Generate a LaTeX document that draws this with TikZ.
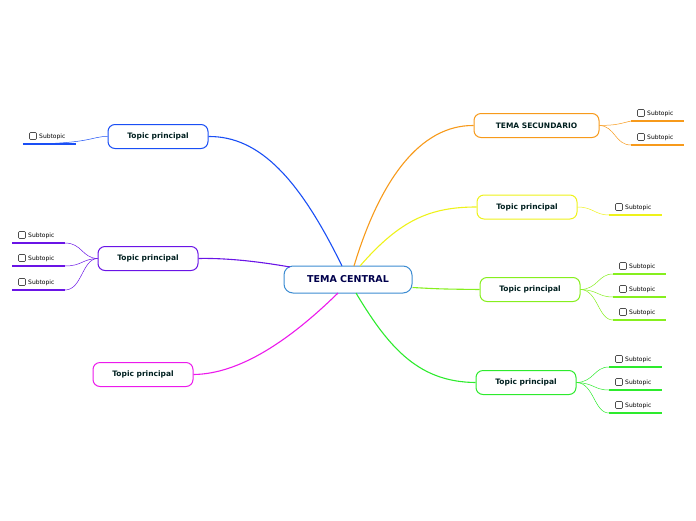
\documentclass[tikz,border=0pt]{standalone}
\usepackage{fontspec}
\setmainfont{DejaVu Sans}
\begin{document}
\begin{tikzpicture}[x=1pt,y=-1pt,
  topic/.style={draw=#1,fill=white,rounded corners=7pt,line width=1pt,minimum width=100pt,minimum height=24pt,font=\bfseries\fontsize{7.5}{9}\selectfont,text=black!75!teal,inner sep=2pt},
  conn/.style={draw=#1,line width=1.1pt},
  sconn/.style={draw=#1,line width=0.5pt},
  uline/.style={draw=#1,line width=1.5pt},
  sub/.style={font=\fontsize{6}{7}\selectfont,inner sep=1pt,anchor=west},
  chk/.style={draw=black!70,rounded corners=1pt,minimum size=7pt,inner sep=0pt,line width=0.6pt}]
\useasboundingbox (0,0) rectangle (696,520);
\definecolor{cor}{HTML}{F79A1B}
\definecolor{cye}{HTML}{EEF21A}
\definecolor{cch}{HTML}{86EF1E}
\definecolor{cgr}{HTML}{2DEB2D}
\definecolor{cbl}{HTML}{1A4FF5}
\definecolor{cpu}{HTML}{6A14E6}
\definecolor{cma}{HTML}{EC1AEC}
\definecolor{ccen}{HTML}{3C8CD2}
% center
\node[draw=ccen,fill=white,rounded corners=9pt,line width=1pt,minimum width=128pt,minimum height=27pt,font=\bfseries\fontsize{9.5}{11}\selectfont,text=black!70!blue] (c) at (348,279.5) {TEMA CENTRAL};
% branches
\node[topic=cor,minimum width=125pt] (o) at (536.5,125.5) {TEMA SECUNDARIO};
\node[topic=cye] (y) at (527,207) {Topic principal};
\node[topic=cch] (h) at (530,289.5) {Topic principal};
\node[topic=cgr] (g) at (526,382.5) {Topic principal};
\node[topic=cbl] (b) at (158,136.5) {Topic principal};
\node[topic=cpu] (p) at (148,258.5) {Topic principal};
\node[topic=cma] (m) at (143,374.5) {Topic principal};
\begin{scope}[on background layer/.style={}]
\end{scope}
% connectors (drawn then nodes redrawn on top not needed: start at borders)
\draw[conn=cor] (354,266) .. controls (380,180) and (420,125) .. (o.west);
\draw[conn=cye] (360,266) .. controls (400,220) and (430,207) .. (y.west);
\draw[conn=cch] (c.east) ++(0,8) .. controls (440,289) .. (h.west);
\draw[conn=cgr] (356,293) .. controls (390,350) and (420,382) .. (g.west);
\draw[conn=cbl] (342,266) .. controls (300,180) and (260,136) .. (b.east);
\draw[conn=cpu] (290,267) .. controls (250,260) and (220,258) .. (p.east);
\draw[conn=cma] (338,293) .. controls (290,340) and (240,374) .. (m.east);
% subtopics
\newcommand{\subt}[5]{% color, x1, x2, y, name
  \coordinate (#5s) at (#2,#4);
  \draw[uline=#1] (#2,#4) -- (#3,#4);
  \node[chk] (#5k) at (#2+10,#4-8) {};
  \node[sub] (#5t) at (#2+15,#4-7.5) {Subtopic};}
\subt{cor}{631}{684}{121}{o1}
\subt{cor}{631}{684}{145}{o2}
\draw[sconn=cor] (o.east) .. controls (615,125) .. (o1s);
\draw[sconn=cor] (o.east) .. controls (615,126) and (615,145) .. (o2s);
\subt{cye}{609}{662}{215}{y1}
\draw[sconn=cye] (y.east) .. controls (593,207) and (595,215) .. (y1s);
\subt{cch}{613}{666}{274}{h1}
\subt{cch}{613}{666}{297}{h2}
\subt{cch}{613}{666}{320}{h3}
\draw[sconn=cch] (h.east) .. controls (598,289) and (598,274) .. (h1s);
\draw[sconn=cch] (h.east) .. controls (598,290) and (598,297) .. (h2s);
\draw[sconn=cch] (h.east) .. controls (598,290) and (598,320) .. (h3s);
\subt{cgr}{609}{662}{367}{g1}
\subt{cgr}{609}{662}{390}{g2}
\subt{cgr}{609}{662}{413}{g3}
\draw[sconn=cgr] (g.east) .. controls (594,382) and (594,367) .. (g1s);
\draw[sconn=cgr] (g.east) .. controls (594,383) and (594,390) .. (g2s);
\draw[sconn=cgr] (g.east) .. controls (594,383) and (594,413) .. (g3s);
\subt{cbl}{23}{76}{144}{b1}
\draw[sconn=cbl] (b.west) .. controls (92,136) and (92,144) .. (b1s);
\subt{cpu}{12}{65}{243}{p1}
\subt{cpu}{12}{65}{266}{p2}
\subt{cpu}{12}{65}{290}{p3}
\coordinate (p1e) at (65,243); \coordinate (p2e) at (65,266); \coordinate (p3e) at (65,290);
\draw[sconn=cpu] (p.west) .. controls (82,258) and (82,243) .. (p1e);
\draw[sconn=cpu] (p.west) .. controls (82,259) and (82,266) .. (p2e);
\draw[sconn=cpu] (p.west) .. controls (82,259) and (82,290) .. (p3e);
\end{tikzpicture}
\end{document}
